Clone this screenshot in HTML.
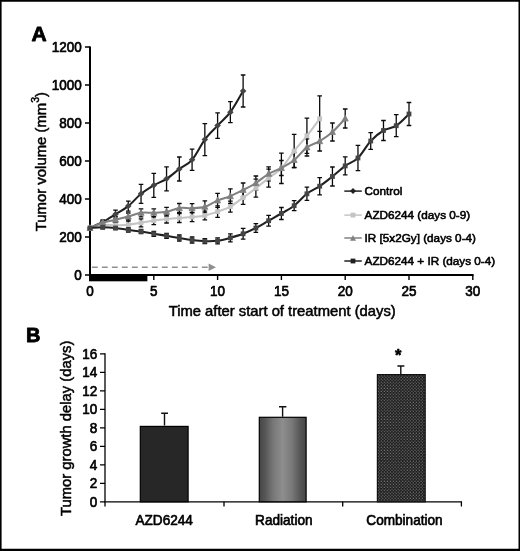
<!DOCTYPE html>
<html lang="en"><head><meta charset="utf-8"><title>Figure</title>
<style>html,body{margin:0;padding:0;background:#fff}svg{display:block}svg text{stroke:#000;stroke-width:.64px;stroke-linejoin:round}svg text.big{stroke-width:.8px}svg text.leg{stroke-width:.58px}svg text.ttl{stroke-width:.5px}</style>
</head><body>
<svg width="520" height="551" viewBox="0 0 520 551">
<defs>
<linearGradient id="g2" x1="0" y1="0" x2="1" y2="0"><stop offset="0" stop-color="#464646"/><stop offset="0.12" stop-color="#555555"/><stop offset="0.3" stop-color="#787878"/><stop offset="0.5" stop-color="#8e8e8e"/><stop offset="0.7" stop-color="#787878"/><stop offset="0.88" stop-color="#555555"/><stop offset="1" stop-color="#464646"/></linearGradient>
<pattern id="dots" x="377.2" y="374.9" width="3.06" height="3.1" patternUnits="userSpaceOnUse"><rect width="3.06" height="3.1" fill="#1c1c1c"/><rect x="0.45" y="0.45" width="1.2" height="1.0" fill="#858585"/><rect x="1.98" y="2.0" width="1.2" height="1.0" fill="#858585"/></pattern>
</defs>
<rect width="520" height="551" fill="#fff"/>
<path d="M0 0H520V551H0Z M1.6 1.7V548.7H518.5V1.7Z" fill="#000" fill-rule="evenodd"/>
<g font-family="'Liberation Sans', Arial, Helvetica, sans-serif" fill="#000">
<text x="31.6" y="41.4" font-size="21" font-weight="bold" class="big">A</text>
<path d="M90 46.5V276" stroke="#000" stroke-width="2" fill="none"/>
<path d="M89 275H473.6" stroke="#000" stroke-width="2" fill="none"/>
<path d="M85 275.0H90M85 237.0H90M85 199.0H90M85 161.0H90M85 123.0H90M85 85.0H90M85 47.0H90" stroke="#000" stroke-width="1.6" fill="none"/>
<path d="M153.80 275V280M217.60 275V280M281.40 275V280M345.20 275V280M409.00 275V280M472.80 275V280" stroke="#000" stroke-width="1.4" fill="none"/>
<g font-size="13.5" text-anchor="end">
<text transform="translate(81.8 280.25) scale(1 1.06)">0</text>
<text transform="translate(81.8 242.25) scale(1 1.06)">200</text>
<text transform="translate(81.8 204.25) scale(1 1.06)">400</text>
<text transform="translate(81.8 166.25) scale(1 1.06)">600</text>
<text transform="translate(81.8 128.25) scale(1 1.06)">800</text>
<text transform="translate(81.8 90.25) scale(1 1.06)">1000</text>
<text transform="translate(81.8 52.25) scale(1 1.06)">1200</text>
</g>
<g font-size="13.5" text-anchor="middle">
<text transform="translate(90.00 295.7) scale(1 1.06)">0</text>
<text transform="translate(153.80 295.7) scale(1 1.06)">5</text>
<text transform="translate(217.60 295.7) scale(1 1.06)">10</text>
<text transform="translate(281.40 295.7) scale(1 1.06)">15</text>
<text transform="translate(345.20 295.7) scale(1 1.06)">20</text>
<text transform="translate(409.00 295.7) scale(1 1.06)">25</text>
<text transform="translate(472.80 295.7) scale(1 1.06)">30</text>
</g>
<text transform="translate(282.2 315.9) scale(1.05 1)" font-size="14.1" class="ttl" text-anchor="middle">Time after start of treatment (days)</text>
<text transform="translate(46.2 161.6) rotate(-90)" font-size="14.9" class="ttl" text-anchor="middle">Tumor volume (mm<tspan font-size="10.5" dy="-7.6">3</tspan><tspan dy="7.6">)</tspan></text>
<path d="M91.9 267.2H209" stroke="#909090" stroke-width="1.4" stroke-dasharray="5.8 4.2" fill="none"/>
<path d="M208.6 263.5L216 267.2L208.6 270.9Z" fill="#909090"/>
<rect x="89" y="274.5" width="58.4" height="6.8" fill="#000"/>
<path d="M102.76 220.00V224.00M100.46 220.00H105.06M100.46 224.00H105.06M115.52 210.20V218.20M113.22 210.20H117.82M113.22 218.20H117.82M128.28 201.10V211.10M125.98 201.10H130.58M125.98 211.10H130.58M141.04 184.30V203.30M138.74 184.30H143.34M138.74 203.30H143.34M153.80 173.30V197.30M151.50 173.30H156.10M151.50 197.30H156.10M166.56 166.80V190.80M164.26 166.80H168.86M164.26 190.80H168.86M179.32 157.00V181.00M177.02 157.00H181.62M177.02 181.00H181.62M192.08 149.20V170.40M189.78 149.20H194.38M189.78 170.40H194.38M204.84 123.60V155.60M202.54 123.60H207.14M202.54 155.60H207.14M217.60 112.90V138.30M215.30 112.90H219.90M215.30 138.30H219.90M230.36 101.70V122.70M228.06 101.70H232.66M228.06 122.70H232.66M243.12 75.00V107.00M240.82 75.00H245.42M240.82 107.00H245.42" stroke="#0a0a0a" stroke-width="1.3" fill="none"/>
<path d="M102.76 223.00V227.00M100.46 223.00H105.06M100.46 227.00H105.06M115.52 222.20V228.20M113.22 222.20H117.82M113.22 228.20H117.82M128.28 221.20V228.20M125.98 221.20H130.58M125.98 228.20H130.58M141.04 218.80V226.80M138.74 218.80H143.34M138.74 226.80H143.34M153.80 216.60V224.60M151.50 216.60H156.10M151.50 224.60H156.10M166.56 215.00V223.00M164.26 215.00H168.86M164.26 223.00H168.86M179.32 213.50V222.50M177.02 213.50H181.62M177.02 222.50H181.62M192.08 212.40V221.60M189.78 212.40H194.38M189.78 221.60H194.38M204.84 211.10V219.90M202.54 211.10H207.14M202.54 219.90H207.14M217.60 205.80V217.40M215.30 205.80H219.90M215.30 217.40H219.90M230.36 201.10V212.10M228.06 201.10H232.66M228.06 212.10H232.66M243.12 190.90V204.30M240.82 190.90H245.42M240.82 204.30H245.42M255.88 179.20V197.20M253.58 179.20H258.18M253.58 197.20H258.18M268.64 169.10V187.10M266.34 169.10H270.94M266.34 187.10H270.94M281.40 153.10V183.50M279.10 153.10H283.70M279.10 183.50H283.70M294.16 134.30V167.70M291.86 134.30H296.46M291.86 167.70H296.46M306.92 118.20V153.40M304.62 118.20H309.22M304.62 153.40H309.22M319.68 95.80V141.80M317.38 95.80H321.98M317.38 141.80H321.98" stroke="#0a0a0a" stroke-width="1.3" fill="none"/>
<path d="M102.76 220.70V224.70M100.46 220.70H105.06M100.46 224.70H105.06M115.52 216.70V222.70M113.22 216.70H117.82M113.22 222.70H117.82M128.28 213.00V220.00M125.98 213.00H130.58M125.98 220.00H130.58M141.04 208.80V216.80M138.74 208.80H143.34M138.74 216.80H143.34M153.80 208.80V216.80M151.50 208.80H156.10M151.50 216.80H156.10M166.56 207.30V216.30M164.26 207.30H168.86M164.26 216.30H168.86M179.32 203.50V212.50M177.02 203.50H181.62M177.02 212.50H181.62M192.08 203.60V212.80M189.78 203.60H194.38M189.78 212.80H194.38M204.84 200.80V212.80M202.54 200.80H207.14M202.54 212.80H207.14M217.60 193.40V207.40M215.30 193.40H219.90M215.30 207.40H219.90M230.36 188.90V203.50M228.06 188.90H232.66M228.06 203.50H232.66M243.12 183.00V197.00M240.82 183.00H245.42M240.82 197.00H245.42M255.88 176.00V190.00M253.58 176.00H258.18M253.58 190.00H258.18M268.64 166.80V180.80M266.34 166.80H270.94M266.34 180.80H270.94M281.40 160.50V175.50M279.10 160.50H283.70M279.10 175.50H283.70M294.16 152.50V167.50M291.86 152.50H296.46M291.86 167.50H296.46M306.92 138.80V156.00M304.62 138.80H309.22M304.62 156.00H309.22M319.68 131.40V151.00M317.38 131.40H321.98M317.38 151.00H321.98M332.44 123.00V141.00M330.14 123.00H334.74M330.14 141.00H334.74M345.20 109.00V128.00M342.90 109.00H347.50M342.90 128.00H347.50" stroke="#0a0a0a" stroke-width="1.3" fill="none"/>
<path d="M102.76 225.80V228.80M100.46 225.80H105.06M100.46 228.80H105.06M115.52 226.50V229.50M113.22 226.50H117.82M113.22 229.50H117.82M128.28 228.00V232.00M125.98 228.00H130.58M125.98 232.00H130.58M141.04 229.50V233.50M138.74 229.50H143.34M138.74 233.50H143.34M153.80 231.30V236.30M151.50 231.30H156.10M151.50 236.30H156.10M166.56 233.30V238.30M164.26 233.30H168.86M164.26 238.30H168.86M179.32 235.00V241.00M177.02 235.00H181.62M177.02 241.00H181.62M192.08 237.00V243.00M189.78 237.00H194.38M189.78 243.00H194.38M204.84 238.70V243.70M202.54 238.70H207.14M202.54 243.70H207.14M217.60 237.80V243.80M215.30 237.80H219.90M215.30 243.80H219.90M230.36 233.80V241.80M228.06 233.80H232.66M228.06 241.80H232.66M243.12 228.40V239.20M240.82 228.40H245.42M240.82 239.20H245.42M255.88 223.70V232.30M253.58 223.70H258.18M253.58 232.30H258.18M268.64 215.30V226.10M266.34 215.30H270.94M266.34 226.10H270.94M281.40 207.50V219.50M279.10 207.50H283.70M279.10 219.50H283.70M294.16 200.70V210.70M291.86 200.70H296.46M291.86 210.70H296.46M306.92 187.20V200.40M304.62 187.20H309.22M304.62 200.40H309.22M319.68 177.60V194.80M317.38 177.60H321.98M317.38 194.80H321.98M332.44 167.00V186.00M330.14 167.00H334.74M330.14 186.00H334.74M345.20 156.90V174.90M342.90 156.90H347.50M342.90 174.90H347.50M357.96 145.30V170.70M355.66 145.30H360.26M355.66 170.70H360.26M370.72 132.60V149.40M368.42 132.60H373.02M368.42 149.40H373.02M383.48 120.50V140.50M381.18 120.50H385.78M381.18 140.50H385.78M396.24 114.70V136.70M393.94 114.70H398.54M393.94 136.70H398.54M409.00 102.50V125.50M406.70 102.50H411.30M406.70 125.50H411.30" stroke="#0a0a0a" stroke-width="1.3" fill="none"/>
<path d="M90.00 228.00 C92.13 227.00 98.51 224.30 102.76 222.00 C107.01 219.70 111.27 216.85 115.52 214.20 C119.77 211.55 124.03 209.50 128.28 206.10 C132.53 202.70 136.79 197.27 141.04 193.80 C145.29 190.33 149.55 187.80 153.80 185.30 C158.05 182.80 162.31 181.52 166.56 178.80 C170.81 176.08 175.07 172.17 179.32 169.00 C183.57 165.83 187.83 164.70 192.08 159.80 C196.33 154.90 200.59 145.30 204.84 139.60 C209.09 133.90 213.35 130.17 217.60 125.60 C221.85 121.03 226.11 117.97 230.36 112.20 C234.61 106.43 240.99 94.53 243.12 91.00" stroke="#202020" stroke-width="2.05" fill="none" stroke-linejoin="round"/>
<g fill="#444444"><path d="M90.00 224.74L93.26 228.00L90.00 231.26L86.74 228.00Z"/><path d="M102.76 218.74L106.02 222.00L102.76 225.26L99.50 222.00Z"/><path d="M115.52 210.94L118.78 214.20L115.52 217.46L112.26 214.20Z"/><path d="M128.28 202.84L131.54 206.10L128.28 209.36L125.02 206.10Z"/><path d="M141.04 190.54L144.30 193.80L141.04 197.06L137.78 193.80Z"/><path d="M153.80 182.04L157.06 185.30L153.80 188.56L150.54 185.30Z"/><path d="M166.56 175.54L169.82 178.80L166.56 182.06L163.30 178.80Z"/><path d="M179.32 165.74L182.58 169.00L179.32 172.26L176.06 169.00Z"/><path d="M192.08 156.54L195.34 159.80L192.08 163.06L188.82 159.80Z"/><path d="M204.84 136.34L208.10 139.60L204.84 142.86L201.58 139.60Z"/><path d="M217.60 122.34L220.86 125.60L217.60 128.86L214.34 125.60Z"/><path d="M230.36 108.94L233.62 112.20L230.36 115.46L227.10 112.20Z"/><path d="M243.12 87.74L246.38 91.00L243.12 94.26L239.86 91.00Z"/></g>
<path d="M90.00 228.00 C92.13 227.50 98.51 225.47 102.76 225.00 C107.01 224.53 111.27 225.25 115.52 225.20 C119.77 225.15 124.03 225.10 128.28 224.70 C132.53 224.30 136.79 223.48 141.04 222.80 C145.29 222.12 149.55 221.23 153.80 220.60 C158.05 219.97 162.31 219.43 166.56 219.00 C170.81 218.57 175.07 218.33 179.32 218.00 C183.57 217.67 187.83 217.42 192.08 217.00 C196.33 216.58 200.59 216.40 204.84 215.50 C209.09 214.60 213.35 213.08 217.60 211.60 C221.85 210.12 226.11 208.93 230.36 206.60 C234.61 204.27 238.87 200.67 243.12 197.60 C247.37 194.53 251.63 191.45 255.88 188.20 C260.13 184.95 264.39 181.42 268.64 178.10 C272.89 174.78 277.15 172.82 281.40 168.30 C285.65 163.78 289.91 156.42 294.16 151.00 C298.41 145.58 302.67 141.17 306.92 135.80 C311.17 130.43 317.55 121.63 319.68 118.80" stroke="#c4c4c4" stroke-width="2.05" fill="none" stroke-linejoin="round"/>
<g fill="#c4c4c4"><rect x="87.60" y="225.60" width="4.80" height="4.80"/><rect x="100.36" y="222.60" width="4.80" height="4.80"/><rect x="113.12" y="222.80" width="4.80" height="4.80"/><rect x="125.88" y="222.30" width="4.80" height="4.80"/><rect x="138.64" y="220.40" width="4.80" height="4.80"/><rect x="151.40" y="218.20" width="4.80" height="4.80"/><rect x="164.16" y="216.60" width="4.80" height="4.80"/><rect x="176.92" y="215.60" width="4.80" height="4.80"/><rect x="189.68" y="214.60" width="4.80" height="4.80"/><rect x="202.44" y="213.10" width="4.80" height="4.80"/><rect x="215.20" y="209.20" width="4.80" height="4.80"/><rect x="227.96" y="204.20" width="4.80" height="4.80"/><rect x="240.72" y="195.20" width="4.80" height="4.80"/><rect x="253.48" y="185.80" width="4.80" height="4.80"/><rect x="266.24" y="175.70" width="4.80" height="4.80"/><rect x="279.00" y="165.90" width="4.80" height="4.80"/><rect x="291.76" y="148.60" width="4.80" height="4.80"/><rect x="304.52" y="133.40" width="4.80" height="4.80"/><rect x="317.28" y="116.40" width="4.80" height="4.80"/></g>
<path d="M90.00 228.00 C92.13 227.12 98.51 224.08 102.76 222.70 C107.01 221.32 111.27 220.73 115.52 219.70 C119.77 218.67 124.03 217.65 128.28 216.50 C132.53 215.35 136.79 213.42 141.04 212.80 C145.29 212.18 149.55 212.97 153.80 212.80 C158.05 212.63 162.31 212.60 166.56 211.80 C170.81 211.00 175.07 208.60 179.32 208.00 C183.57 207.40 187.83 208.40 192.08 208.20 C196.33 208.00 200.59 208.10 204.84 206.80 C209.09 205.50 213.35 202.17 217.60 200.40 C221.85 198.63 226.11 197.93 230.36 196.20 C234.61 194.47 238.87 192.20 243.12 190.00 C247.37 187.80 251.63 185.70 255.88 183.00 C260.13 180.30 264.39 176.30 268.64 173.80 C272.89 171.30 277.15 170.30 281.40 168.00 C285.65 165.70 289.91 163.43 294.16 160.00 C298.41 156.57 302.67 150.53 306.92 147.40 C311.17 144.27 315.43 143.77 319.68 141.20 C323.93 138.63 328.19 135.78 332.44 132.00 C336.69 128.22 343.07 120.75 345.20 118.50" stroke="#808080" stroke-width="2.05" fill="none" stroke-linejoin="round"/>
<g fill="#808080"><path d="M90.00 224.64L93.02 230.52L86.98 230.52Z" stroke="#808080" stroke-width="0.8" stroke-linejoin="round"/><path d="M102.76 219.34L105.78 225.22L99.74 225.22Z" stroke="#808080" stroke-width="0.8" stroke-linejoin="round"/><path d="M115.52 216.34L118.54 222.22L112.50 222.22Z" stroke="#808080" stroke-width="0.8" stroke-linejoin="round"/><path d="M128.28 213.14L131.30 219.02L125.26 219.02Z" stroke="#808080" stroke-width="0.8" stroke-linejoin="round"/><path d="M141.04 209.44L144.06 215.32L138.02 215.32Z" stroke="#808080" stroke-width="0.8" stroke-linejoin="round"/><path d="M153.80 209.44L156.82 215.32L150.78 215.32Z" stroke="#808080" stroke-width="0.8" stroke-linejoin="round"/><path d="M166.56 208.44L169.58 214.32L163.54 214.32Z" stroke="#808080" stroke-width="0.8" stroke-linejoin="round"/><path d="M179.32 204.64L182.34 210.52L176.30 210.52Z" stroke="#808080" stroke-width="0.8" stroke-linejoin="round"/><path d="M192.08 204.84L195.10 210.72L189.06 210.72Z" stroke="#808080" stroke-width="0.8" stroke-linejoin="round"/><path d="M204.84 203.44L207.86 209.32L201.82 209.32Z" stroke="#808080" stroke-width="0.8" stroke-linejoin="round"/><path d="M217.60 197.04L220.62 202.92L214.58 202.92Z" stroke="#808080" stroke-width="0.8" stroke-linejoin="round"/><path d="M230.36 192.84L233.38 198.72L227.34 198.72Z" stroke="#808080" stroke-width="0.8" stroke-linejoin="round"/><path d="M243.12 186.64L246.14 192.52L240.10 192.52Z" stroke="#808080" stroke-width="0.8" stroke-linejoin="round"/><path d="M255.88 179.64L258.90 185.52L252.86 185.52Z" stroke="#808080" stroke-width="0.8" stroke-linejoin="round"/><path d="M268.64 170.44L271.66 176.32L265.62 176.32Z" stroke="#808080" stroke-width="0.8" stroke-linejoin="round"/><path d="M281.40 164.64L284.42 170.52L278.38 170.52Z" stroke="#808080" stroke-width="0.8" stroke-linejoin="round"/><path d="M294.16 156.64L297.18 162.52L291.14 162.52Z" stroke="#808080" stroke-width="0.8" stroke-linejoin="round"/><path d="M306.92 144.04L309.94 149.92L303.90 149.92Z" stroke="#808080" stroke-width="0.8" stroke-linejoin="round"/><path d="M319.68 137.84L322.70 143.72L316.66 143.72Z" stroke="#808080" stroke-width="0.8" stroke-linejoin="round"/><path d="M332.44 128.64L335.46 134.52L329.42 134.52Z" stroke="#808080" stroke-width="0.8" stroke-linejoin="round"/><path d="M345.20 115.14L348.22 121.02L342.18 121.02Z" stroke="#808080" stroke-width="0.8" stroke-linejoin="round"/></g>
<path d="M90.00 228.00 C92.13 227.88 98.51 227.30 102.76 227.30 C107.01 227.30 111.27 227.55 115.52 228.00 C119.77 228.45 124.03 229.42 128.28 230.00 C132.53 230.58 136.79 230.87 141.04 231.50 C145.29 232.13 149.55 233.08 153.80 233.80 C158.05 234.52 162.31 235.10 166.56 235.80 C170.81 236.50 175.07 237.30 179.32 238.00 C183.57 238.70 187.83 239.47 192.08 240.00 C196.33 240.53 200.59 241.07 204.84 241.20 C209.09 241.33 213.35 241.37 217.60 240.80 C221.85 240.23 226.11 238.97 230.36 237.80 C234.61 236.63 238.87 235.43 243.12 233.80 C247.37 232.17 251.63 230.18 255.88 228.00 C260.13 225.82 264.39 223.12 268.64 220.70 C272.89 218.28 277.15 216.00 281.40 213.50 C285.65 211.00 289.91 208.98 294.16 205.70 C298.41 202.42 302.67 197.05 306.92 193.80 C311.17 190.55 315.43 189.08 319.68 186.20 C323.93 183.32 328.19 179.88 332.44 176.50 C336.69 173.12 340.95 168.98 345.20 165.90 C349.45 162.82 353.71 162.15 357.96 158.00 C362.21 153.85 366.47 145.58 370.72 141.00 C374.97 136.42 379.23 133.05 383.48 130.50 C387.73 127.95 391.99 128.45 396.24 125.70 C400.49 122.95 406.87 115.95 409.00 114.00" stroke="#202020" stroke-width="2.05" fill="none" stroke-linejoin="round"/>
<g fill="#444444"><rect x="87.60" y="225.60" width="4.80" height="4.80"/><rect x="100.36" y="224.90" width="4.80" height="4.80"/><rect x="113.12" y="225.60" width="4.80" height="4.80"/><rect x="125.88" y="227.60" width="4.80" height="4.80"/><rect x="138.64" y="229.10" width="4.80" height="4.80"/><rect x="151.40" y="231.40" width="4.80" height="4.80"/><rect x="164.16" y="233.40" width="4.80" height="4.80"/><rect x="176.92" y="235.60" width="4.80" height="4.80"/><rect x="189.68" y="237.60" width="4.80" height="4.80"/><rect x="202.44" y="238.80" width="4.80" height="4.80"/><rect x="215.20" y="238.40" width="4.80" height="4.80"/><rect x="227.96" y="235.40" width="4.80" height="4.80"/><rect x="240.72" y="231.40" width="4.80" height="4.80"/><rect x="253.48" y="225.60" width="4.80" height="4.80"/><rect x="266.24" y="218.30" width="4.80" height="4.80"/><rect x="279.00" y="211.10" width="4.80" height="4.80"/><rect x="291.76" y="203.30" width="4.80" height="4.80"/><rect x="304.52" y="191.40" width="4.80" height="4.80"/><rect x="317.28" y="183.80" width="4.80" height="4.80"/><rect x="330.04" y="174.10" width="4.80" height="4.80"/><rect x="342.80" y="163.50" width="4.80" height="4.80"/><rect x="355.56" y="155.60" width="4.80" height="4.80"/><rect x="368.32" y="138.60" width="4.80" height="4.80"/><rect x="381.08" y="128.10" width="4.80" height="4.80"/><rect x="393.84" y="123.30" width="4.80" height="4.80"/><rect x="406.60" y="111.60" width="4.80" height="4.80"/></g>
<path d="M344.3 191.1H361.8" stroke="#202020" stroke-width="1.5" fill="none"/>
<path d="M353.00 188.10L356.00 191.10L353.00 194.10L350.00 191.10Z" fill="#202020"/>
<text x="364.6" y="195.3" font-size="11.72" class="leg">Control</text>
<path d="M344.3 215.1H361.8" stroke="#c4c4c4" stroke-width="1.5" fill="none"/>
<rect x="350.60" y="212.70" width="4.80" height="4.80" fill="#c4c4c4"/>
<text x="364.6" y="219.3" font-size="11.72" class="leg">AZD6244 (days 0-9)</text>
<path d="M344.3 238.0H361.8" stroke="#808080" stroke-width="1.5" fill="none"/>
<path d="M353.00 235.00L356.00 240.70L350.00 240.70Z" fill="#808080"/>
<text x="364.6" y="242.2" font-size="11.72" class="leg">IR [5x2Gy] (days 0-4)</text>
<path d="M344.3 261.0H361.8" stroke="#202020" stroke-width="1.5" fill="none"/>
<rect x="350.60" y="258.60" width="4.80" height="4.80" fill="#202020"/>
<text x="364.6" y="265.2" font-size="11.72" class="leg">AZD6244 + IR (days 0-4)</text>
<text x="26" y="342.2" font-size="20" font-weight="bold" class="big">B</text>
<path d="M105 353.3V506.5" stroke="#000" stroke-width="1.3" fill="none"/>
<path d="M104.4 501.8H462" stroke="#000" stroke-width="1.3" fill="none"/>
<path d="M100 501.80H105M100 483.30H105M100 464.80H105M100 446.30H105M100 427.80H105M100 409.30H105M100 390.80H105M100 372.30H105M100 353.80H105" stroke="#000" stroke-width="1.3" fill="none"/>
<path d="M224 501.8V506.5M342.7 501.8V506.5M461.4 501.8V506.5" stroke="#000" stroke-width="1.3" fill="none"/>
<g font-size="13.5" text-anchor="end">
<text transform="translate(97.3 506.60) scale(1 1.06)">0</text>
<text transform="translate(97.3 488.10) scale(1 1.06)">2</text>
<text transform="translate(97.3 469.60) scale(1 1.06)">4</text>
<text transform="translate(97.3 451.10) scale(1 1.06)">6</text>
<text transform="translate(97.3 432.60) scale(1 1.06)">8</text>
<text transform="translate(97.3 414.10) scale(1 1.06)">10</text>
<text transform="translate(97.3 395.60) scale(1 1.06)">12</text>
<text transform="translate(97.3 377.10) scale(1 1.06)">14</text>
<text transform="translate(97.3 358.60) scale(1 1.06)">16</text>
</g>
<text transform="translate(71.0 428.3) rotate(-90)" font-size="14.8" class="ttl" text-anchor="middle">Tumor growth delay (days)</text>
<rect x="140.3" y="426.4" width="47.8" height="75.4" fill="#272727" stroke="#000" stroke-width="1.2"/>
<path d="M164.5 425.5V413.3M161.2 413.3H168" stroke="#111" stroke-width="1.4" fill="none"/>
<rect x="259.3" y="417.3" width="46.8" height="84.5" fill="url(#g2)" stroke="#000" stroke-width="1.2"/>
<path d="M282.6 416.8V406.7M279 406.7H286.4" stroke="#111" stroke-width="1.4" fill="none"/>
<rect x="377.4" y="374.6" width="47.8" height="127.2" fill="url(#dots)" stroke="#111" stroke-width="1.2"/>
<path d="M400.8 374V366M397.4 366H404.4" stroke="#111" stroke-width="1.4" fill="none"/>
<text x="398.3" y="361" font-size="16.5" font-weight="bold" text-anchor="middle" class="leg">*</text>
<g font-size="13.6" text-anchor="middle">
<text transform="translate(164.2 525.3) scale(1 1.05)">AZD6244</text>
<text transform="translate(283.8 525.3) scale(1 1.05)">Radiation</text>
<text transform="translate(404.5 525.3) scale(1 1.05)">Combination</text>
</g>
</g>
</svg>
</body></html>
